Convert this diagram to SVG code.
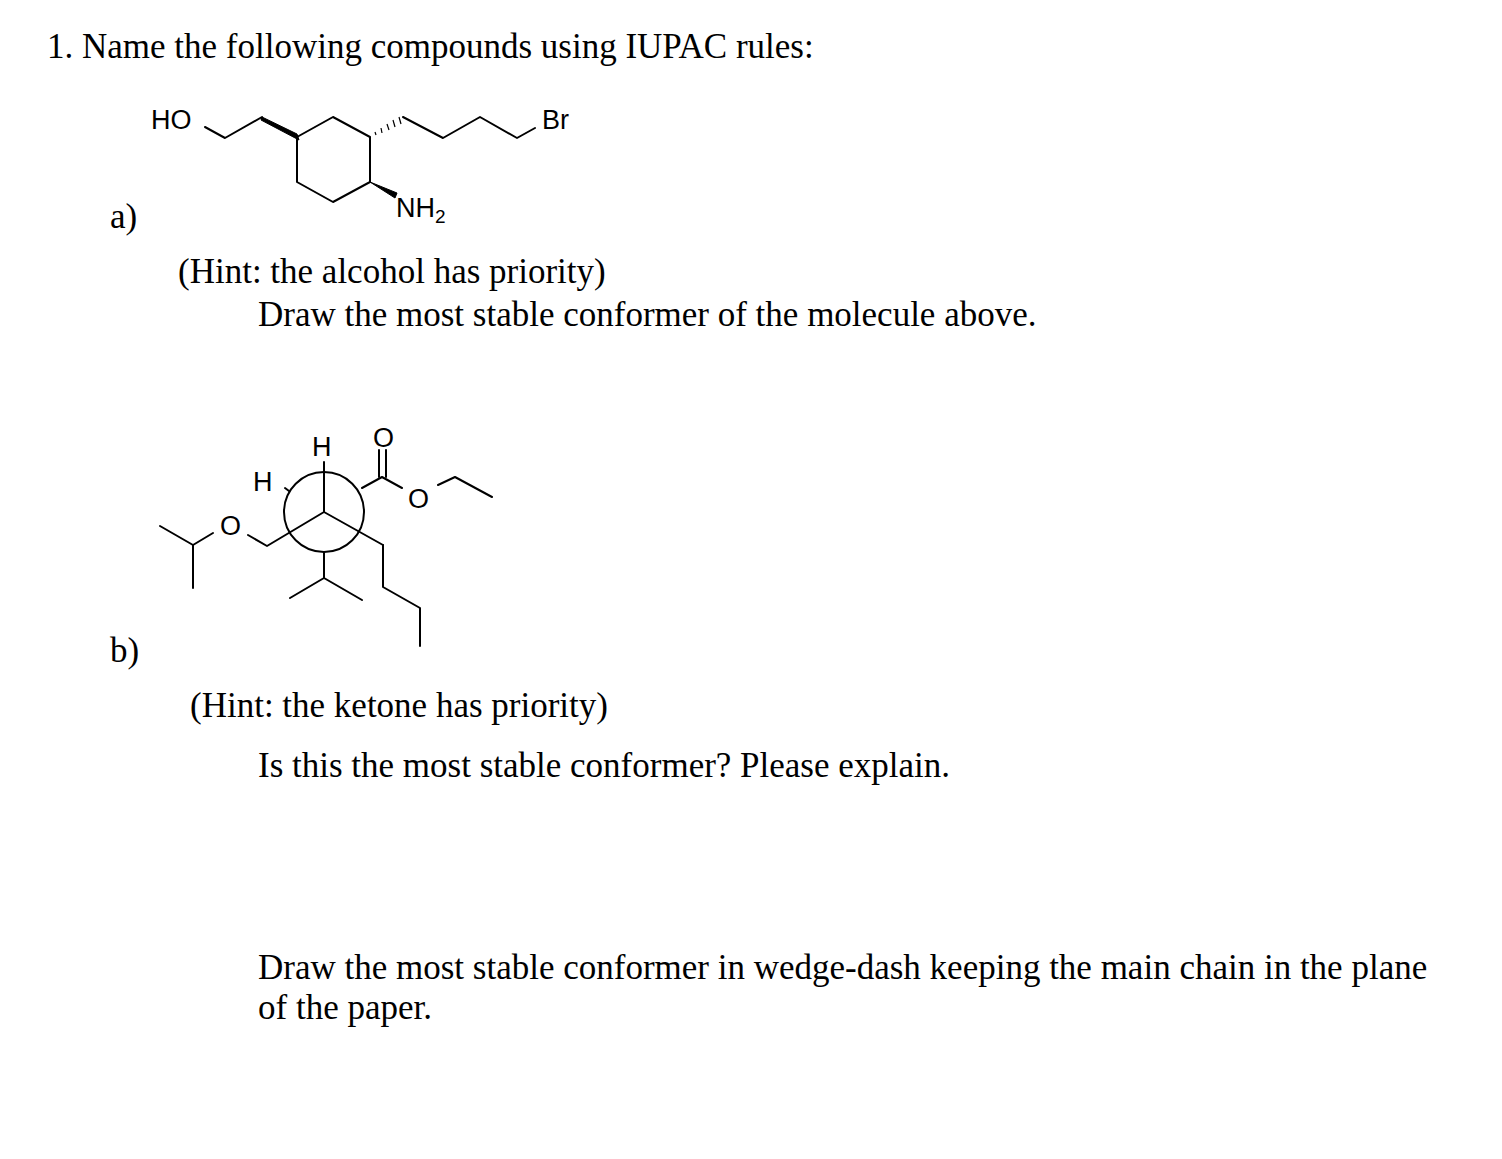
<svg xmlns="http://www.w3.org/2000/svg" width="1502" height="1159" viewBox="0 0 1502 1159">
<style>
.t{font-family:"Liberation Serif",serif;font-size:35px;fill:#000}
.a{font-family:"Liberation Sans",Arial,sans-serif;font-size:27px;fill:#000}
.b{stroke:#000;stroke-width:2;fill:none;stroke-linecap:round;stroke-linejoin:round}
</style>
<rect width="1502" height="1159" fill="#fff"/>
<text class="t" x="47" y="58">1.  Name the following compounds using IUPAC rules:</text>
<text class="t" x="110" y="228">a)</text>
<text class="t" x="178" y="283">(Hint: the alcohol has priority)</text>
<text class="t" x="258" y="326">Draw the most stable conformer of the molecule above.</text>
<text class="t" x="110" y="662">b)</text>
<text class="t" x="190" y="717">(Hint: the ketone has priority)</text>
<text class="t" x="258" y="777">Is this the most stable conformer?  Please explain.</text>
<text class="t" x="258" y="979">Draw the most stable conformer in wedge-dash keeping the main chain in the plane</text>
<text class="t" x="258" y="1019">of the paper.</text>
<g id="moleculeA">
<text class="a" x="151" y="129">HO</text>
<text class="a" x="542" y="129">Br</text>
<text class="a" x="396" y="217">NH<tspan font-size="19" dy="6">2</tspan></text>
<g id="bondsA" class="b">
<polyline points="205,127 225,138 262,117"/>
<polygon points="297,137 297,137 333,117 370,137 370,182 333,202 297,182 297,137"/>
<polyline points="403,117 443,138 480,117 517,138 535,128"/>
</g>
<polygon points="262,117 297,134 299,140 261,120" fill="#000" stroke="#000" stroke-width="1"/>
<polygon points="370,182 397,193 395,198" fill="#000" stroke="#000" stroke-width="1"/>
<g stroke="#000" stroke-width="1.2">
<line x1="375" y1="132" x2="376" y2="135"/>
<line x1="381" y1="128" x2="382" y2="133"/>
<line x1="387" y1="124" x2="389" y2="130"/>
<line x1="393" y1="120" x2="395" y2="127"/>
<line x1="399" y1="117" x2="401" y2="124"/>
</g>
</g>
<g id="moleculeB">
<text class="a" x="312" y="456">H</text>
<text class="a" x="253" y="491">H</text>
<text class="a" x="373" y="447">O</text>
<text class="a" x="408" y="508">O</text>
<text class="a" x="220" y="535">O</text>
<circle cx="324" cy="512" r="40" class="b"/>
<g class="b">
<polyline points="324,462 324,512 267,546 248,535"/>
<line x1="324" y1="512" x2="383" y2="545"/>
<polyline points="383,545 383,587 420,608 420,646"/>
<polyline points="213,533 193,545 160,526"/>
<line x1="193" y1="545" x2="193" y2="588"/>
<line x1="285" y1="488" x2="289" y2="491"/>
<polyline points="362,488 382,477 402,488"/>
<line x1="379" y1="477" x2="379" y2="450"/>
<line x1="386" y1="477" x2="386" y2="450"/>
<polyline points="438,485 455,477 492,497"/>
<polyline points="324,552 324,578 290,598"/>
<line x1="324" y1="578" x2="362" y2="600"/>
</g>
</g>
</svg>
